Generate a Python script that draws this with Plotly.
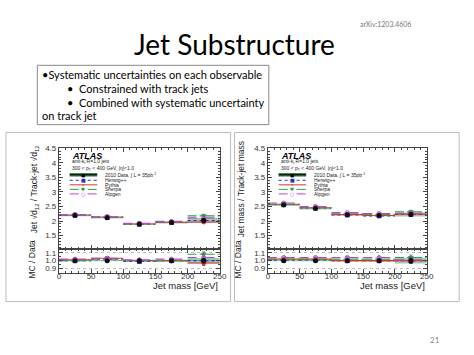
import plotly.graph_objects as go

# ---------------- data ----------------
bin_edges = [0, 50, 100, 150, 200, 250]
bin_centers = [25, 75, 125, 175, 225]

# left: Jet sqrt(d12) / Track-jet sqrt(d12)
data_d12 = [2.19, 2.11, 1.90, 1.95, 2.02]
data_d12_stat = [0.02, 0.02, 0.03, 0.03, 0.06]
data_d12_syst = [0.02, 0.02, 0.02, 0.03, 0.09]
herwig_d12 = [2.20, 2.13, 1.89, 1.95, 2.02]
pythia_d12 = [2.21, 2.14, 1.90, 1.96, 1.97]
sherpa_d12 = [2.20, 2.13, 1.90, 1.97, 2.18]
alpgen_d12 = [2.22, 2.15, 1.92, 1.99, 2.11]
mc_err_d12 = [0.01, 0.01, 0.01, 0.02, 0.05]

ratio_herwig_d12 = [1.00, 1.02, 0.99, 1.00, 1.00]
ratio_pythia_d12 = [1.01, 1.03, 1.00, 1.00, 0.97]
ratio_sherpa_d12 = [1.00, 1.02, 1.00, 1.00, 1.08]
ratio_alpgen_d12 = [1.02, 1.03, 1.01, 1.02, 1.04]
ratio_data_syst_d12 = [0.008, 0.008, 0.01, 0.012, 0.035]
ratio_err_d12 = [0.005, 0.005, 0.01, 0.01, 0.03]

# right: Jet mass / Track-jet mass
data_m = [2.55, 2.43, 2.22, 2.19, 2.23]
data_m_stat = [0.02, 0.02, 0.03, 0.03, 0.06]
data_m_syst = [0.03, 0.03, 0.02, 0.02, 0.07]
herwig_m = [2.57, 2.45, 2.21, 2.18, 2.23]
pythia_m = [2.58, 2.46, 2.22, 2.19, 2.24]
sherpa_m = [2.58, 2.46, 2.25, 2.22, 2.32]
alpgen_m = [2.62, 2.50, 2.29, 2.26, 2.27]
mc_err_m = [0.01, 0.01, 0.01, 0.02, 0.05]

ratio_herwig_m = [1.01, 1.01, 1.00, 1.00, 1.00]
ratio_pythia_m = [1.02, 1.02, 1.00, 1.00, 1.00]
ratio_sherpa_m = [1.02, 1.02, 1.02, 1.02, 1.04]
ratio_alpgen_m = [1.04, 1.04, 1.04, 1.04, 1.01]
ratio_data_syst_m = [0.008, 0.008, 0.01, 0.012, 0.035]
ratio_err_m = [0.005, 0.005, 0.01, 0.01, 0.03]

x_tick_vals = [0, 50, 100, 150, 200, 250]
top_y_ticks = [1.5, 2, 2.5, 3, 3.5, 4, 4.5]
ratio_y_ticks = [0.9, 1.0, 1.1]

mc_names = ["Herwig++", "Pythia", "Sherpa", "Alpgen"]
mc_colors = ["#2030d0", "#e0302a", "#30a040", "#c040d0"]
mc_dash = ["dot", "solid", "dashdot", "dash"]
mc_symbols = ["square", "circle", "triangle-down", "circle-open"]
mc_glyphs = ["■", "•", "▼", "○"]
band_color = "rgba(40,140,80,0.45)"

# ---------------- layout helpers ----------------
W, H = 474, 355
def px(x): return x / W
def py(y): return 1 - y / H

fig = go.Figure()

def steps(vals):
    xs, ys = [], []
    for i, v in enumerate(vals):
        xs += [bin_edges[i], bin_edges[i + 1], None]
        ys += [v, v, None]
    return xs, ys

def band(vals, errs):
    xs, ys = [], []
    for i, (v, e) in enumerate(zip(vals, errs)):
        a, b = bin_edges[i], bin_edges[i + 1]
        xs += [a, b, b, a, a, None]
        ys += [v - e, v - e, v + e, v + e, v - e, None]
    return xs, ys

def panel(xa, ya, data, dstat, dsyst, mcs, mcerr):
    bx, by = band(data, dsyst)
    fig.add_trace(go.Scatter(x=bx, y=by, fill="toself", fillcolor=band_color,
                             line=dict(width=0), mode="lines", hoverinfo="skip",
                             xaxis=xa, yaxis=ya, showlegend=False))
    for vals, c, d, s in zip(mcs, mc_colors, mc_dash, mc_symbols):
        sx, sy = steps(vals)
        fig.add_trace(go.Scatter(x=sx, y=sy, mode="lines",
                                 line=dict(color=c, width=1.1, dash=d),
                                 xaxis=xa, yaxis=ya, showlegend=False))
        fig.add_trace(go.Scatter(x=bin_centers, y=vals, mode="markers",
                                 marker=dict(color=c, symbol=s, size=4,
                                             line=dict(color=c, width=1)),
                                 error_y=dict(type="data", array=mcerr, color=c,
                                              thickness=1, width=1.5),
                                 xaxis=xa, yaxis=ya, showlegend=False))
    fig.add_trace(go.Scatter(x=bin_centers, y=data, mode="markers",
                             marker=dict(color="#111", symbol="circle", size=5),
                             error_y=dict(type="data", array=dstat, color="#111",
                                          thickness=1, width=1.5),
                             xaxis=xa, yaxis=ya, showlegend=False))

ones = [1.0 for _ in bin_centers]
panel("x", "y", data_d12, data_d12_stat, data_d12_syst,
      [herwig_d12, pythia_d12, sherpa_d12, alpgen_d12], mc_err_d12)
panel("x2", "y2", ones, ratio_err_d12, ratio_data_syst_d12,
      [ratio_herwig_d12, ratio_pythia_d12, ratio_sherpa_d12, ratio_alpgen_d12], ratio_err_d12)
panel("x3", "y3", data_m, data_m_stat, data_m_syst,
      [herwig_m, pythia_m, sherpa_m, alpgen_m], mc_err_m)
panel("x4", "y4", ones, ratio_err_m, ratio_data_syst_m,
      [ratio_herwig_m, ratio_pythia_m, ratio_sherpa_m, ratio_alpgen_m], ratio_err_m)

tickfont = dict(family="Liberation Sans", size=8, color="#333")
base = dict(showline=True, linecolor="#444", linewidth=1, mirror="allticks",
            ticks="inside", ticklen=4, tickcolor="#444", tickwidth=1,
            tickfont=tickfont, showgrid=False, zeroline=False, fixedrange=True)

def xax(dom, anchor, labels):
    d = dict(base)
    d.update(domain=dom, anchor=anchor, range=[0, 250], tickvals=x_tick_vals,
             showticklabels=labels, ticklabelstandoff=-5,
             minor=dict(ticks="inside", ticklen=2, tickcolor="#444", dtick=10))
    return d

def ytop(dom, anchor):
    d = dict(base)
    d.update(domain=dom, anchor=anchor, range=[1.05, 4.5], tickvals=top_y_ticks,
             minor=dict(ticks="inside", ticklen=2, tickcolor="#444", dtick=0.1))
    return d

def ybot(dom, anchor):
    d = dict(base)
    d.update(domain=dom, anchor=anchor, range=[0.84, 1.15], tickvals=ratio_y_ticks,
             tickformat=".1f", showgrid=True, gridcolor="#bbb", griddash="dot",
             gridwidth=1,
             minor=dict(ticks="inside", ticklen=2, tickcolor="#444", dtick=0.05))
    return d

LX = [px(58), px(222)]
RX = [px(271), px(433)]
TOPY = [py(247.5), py(146)]
BOTY = [py(272.5), py(247.5)]

fig.update_layout(
    width=W, height=H, margin=dict(l=0, r=0, t=0, b=0),
    paper_bgcolor="white", plot_bgcolor="white", showlegend=False,
    xaxis=xax(LX, "y", False), yaxis=ytop(TOPY, "x"),
    xaxis2=xax(LX, "y2", True), yaxis2=ybot(BOTY, "x2"),
    xaxis3=xax(RX, "y3", False), yaxis3=ytop(TOPY, "x3"),
    xaxis4=xax(RX, "y4", True), yaxis4=ybot(BOTY, "x4"),
)

ann = []
shapes = []

def text(x, y, s, size, color="#000", family="Lato", xanchor="left", **kw):
    ann.append(dict(x=px(x), y=py(y), xref="paper", yref="paper", text=s,
                    showarrow=False, xanchor=xanchor, yanchor="middle",
                    font=dict(size=size, color=color, family=family), **kw))

# slide texts
text(391, 20, "arXiv:1203.4606", 7, color="#777", xanchor="center")
text(237, 40.5, "Jet Substructure", 28, xanchor="center")
shapes.append(dict(type="rect", xref="paper", yref="paper", x0=px(36), x1=px(272),
                   y0=py(122), y1=py(62), line=dict(color="#888", width=1)))
text(39, 71.5, "•Systematic uncertainties on each observable", 11)
text(64, 85.5, "•  Constrained with track jets", 11)
text(64, 99.5, "•  Combined with systematic uncertainty", 11)
text(39, 113, "on track jet", 11)
text(441, 340, "21", 8, color="#888", xanchor="center")

# image frames
for x0, x1 in [(4, 233), (237, 466)]:
    shapes.append(dict(type="rect", xref="paper", yref="paper", x0=px(x0), x1=px(x1),
                       y0=py(301), y1=py(130), line=dict(color="#bbb", width=1)))

# plot labels
hf = "Liberation Sans"
for dx, ytitle in [(0, "Jet √d<sub>12</sub> / Track-jet √d<sub>12</sub>"),
                   (210, "Jet mass / Track-jet mass")]:
    text(34 + dx, 187, ytitle, 8.5, color="#222", family=hf, xanchor="center", textangle=-90)
    text(31 + dx, 258, "MC / Data", 8.5, color="#222", family=hf, xanchor="center", textangle=-90)

for xr in [222, 433]:
    text(xr, 285, "Jet mass [GeV]", 9.5, color="#222", family=hf, xanchor="right")

# in-plot legends
for dx in [0, 213]:
    text(69 + dx, 154, "<b><i>ATLAS</i></b>", 9, color="#000", family=hf)
    text(69 + dx, 163,
         "anti-k<sub>t</sub> R=1.0 jets<br>300 < p<sub>T</sub> < 400 GeV, |η|<1.0",
         5, color="#222", family=hf, align="left")
    # data entry
    shapes.append(dict(type="rect", xref="paper", yref="paper", x0=px(69 + dx), x1=px(97 + dx),
                       y0=py(174.5), y1=py(171), fillcolor="rgba(30,110,60,0.9)",
                       line=dict(width=0)))
    shapes.append(dict(type="line", xref="paper", yref="paper", x0=px(69 + dx), x1=px(97 + dx),
                       y0=py(172.7), y1=py(172.7), line=dict(color="#000", width=1)))
    text(83 + dx, 172.7, "●", 5, color="#000", family="DejaVu Sans", xanchor="center")
    text(103 + dx, 172.7, "2010 Data, ∫ L = 35pb<sup>-1</sup>", 5, color="#222", family=hf)
    for k, (nm, c, d, g) in enumerate(zip(mc_names, mc_colors, mc_dash, mc_glyphs)):
        yy = 178.3 + 4.6 * k
        shapes.append(dict(type="line", xref="paper", yref="paper", x0=px(69 + dx),
                           x1=px(97 + dx), y0=py(yy), y1=py(yy),
                           line=dict(color=c, width=1, dash=d)))
        text(83 + dx, yy, g, 5, color=c, family="DejaVu Sans", xanchor="center")
        text(103 + dx, yy, nm, 5, color="#222", family=hf)

fig.update_layout(annotations=ann, shapes=shapes)
fig.write_html("out.html", config={"displayModeBar": False},
               post_script="document.body.style.margin='0';document.body.style.overflow='hidden';")
